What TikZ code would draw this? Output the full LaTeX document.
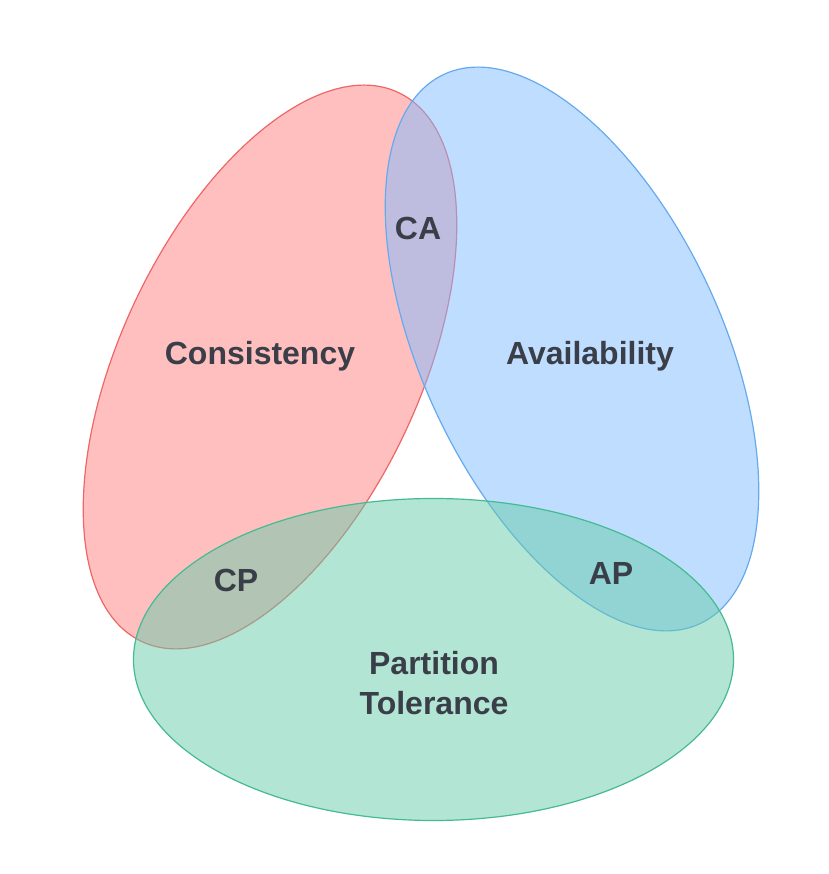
\documentclass[tikz,border=0pt]{standalone}
\usepackage{fontspec}
\setmainfont{Liberation Sans}
\begin{document}
\begin{tikzpicture}[x=1pt,y=1pt]
\definecolor{tx}{HTML}{3A3E48}
\tikzset{lbl/.style={font=\fontsize{32}{40}\selectfont\bfseries, text=tx, align=center}}
\definecolor{rf}{HTML}{FF8080}\definecolor{rs}{HTML}{EE6666}
\definecolor{bf}{HTML}{80BBFF}\definecolor{bs}{HTML}{66AAEE}
\definecolor{gf}{HTML}{66CCAA}\definecolor{gs}{HTML}{44BB90}
\useasboundingbox (0,0) rectangle (828,874);
\draw[rs,line width=1.2pt,fill=rf,fill opacity=0.5] (270,507) ellipse[x radius=303,y radius=150,rotate=65];
\draw[bs,line width=1.2pt,fill=bf,fill opacity=0.5] (572,525) ellipse[x radius=303,y radius=150,rotate=115];
\draw[gs,line width=1.2pt,fill=gf,fill opacity=0.5] (433.5,214.5) ellipse[x radius=300,y radius=161];
\node[lbl] (ca) at (418,646) {CA};
\node[lbl] (c) at (260,518) {Consistency};
\node[lbl] (a) at (590,518) {Availability};
\node[lbl] (cp) at (236,294) {CP};
\node[lbl] (ap) at (611,301) {AP};
\node[lbl] (p) at (434,191) {Partition\\Tolerance};
\end{tikzpicture}
\end{document}
